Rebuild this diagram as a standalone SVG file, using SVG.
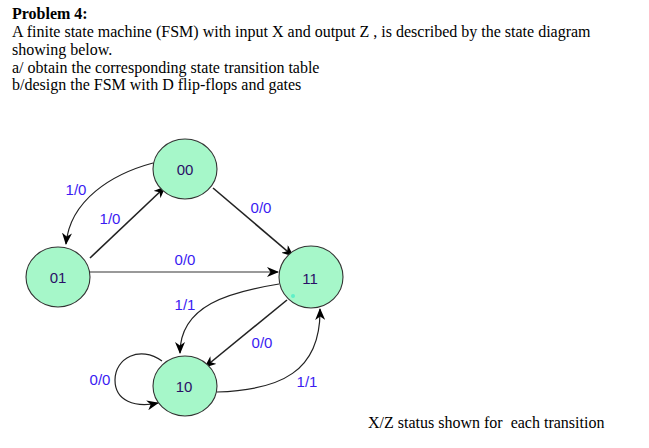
<svg xmlns="http://www.w3.org/2000/svg" width="649" height="448" viewBox="0 0 649 448">
<style>
.t{font-family:"Liberation Serif","Times New Roman",serif;font-size:16px;fill:#000}
.b{font-weight:bold}
.st circle,.st ellipse{fill:#a6f7c9;stroke:#333;stroke-width:1.1}
.st text{font-family:"Liberation Sans",Arial,sans-serif;font-size:15px;fill:#2a0f66;text-anchor:middle}
.e{fill:none;stroke:#222;stroke-width:1.2}
.s{stroke-width:1.6}
.g{fill:none;stroke:#999;stroke-width:1.8}
.lb{font-family:"Liberation Sans",Arial,sans-serif;font-size:15px;fill:#3a1cf2;text-anchor:middle}
</style>
<defs>
<marker id="ar" viewBox="0 0 12 10" refX="11" refY="5" markerWidth="12" markerHeight="10" markerUnits="userSpaceOnUse" orient="auto">
<path d="M0,0 L12,5 L0,10 L3.5,5 z" fill="#000"/>
</marker>
</defs>
<text class="t b" x="12" y="19">Problem 4:</text>
<text class="t" x="12" y="37">A finite state machine (FSM) with input X and output Z , is described by the state diagram</text>
<text class="t" x="12" y="55">showing below.</text>
<text class="t" x="12" y="73">a/ obtain the corresponding state transition table</text>
<text class="t" x="12" y="90">b/design the FSM with D flip-flops and gates</text>
<g id="connectors">
<path class="e" d="M153,163 C112,174 70,200 66,244" marker-end="url(#ar)"/>
<path class="e s" d="M90,258 L165,187" marker-end="url(#ar)"/>
<path class="e s" d="M213,188 L293,256" marker-end="url(#ar)"/>
<path class="g" d="M90,272 L278,272" marker-end="url(#ar)"/>
<path class="e" d="M279,284 C230,292 180,305 180,353" marker-end="url(#ar)"/>
<path class="e s" d="M287,300 L205,367" marker-end="url(#ar)"/>
<path class="e" d="M217,392 C280,390 321,372 320,309" marker-end="url(#ar)"/>
<path class="e" d="M162,361 C140,345 115,358 115,380 C115,401 135,408 158,403" marker-end="url(#ar)"/>
</g>
<g id="labels">
<text class="lb" x="76" y="195">1/0</text>
<text class="lb" x="110" y="224">1/0</text>
<text class="lb" x="261" y="213">0/0</text>
<text class="lb" x="185" y="265">0/0</text>
<text class="lb" x="185" y="310">1/1</text>
<text class="lb" x="262" y="348">0/0</text>
<text class="lb" x="100" y="385">0/0</text>
<text class="lb" x="307" y="387">1/1</text>
</g>
<g id="s00" class="st"><ellipse cx="185" cy="169" rx="32" ry="30"/><text x="185" y="175">00</text></g>
<g id="s01" class="st"><ellipse cx="58" cy="277" rx="32" ry="30"/><text x="58" y="283">01</text></g>
<g id="s11" class="st"><ellipse cx="311" cy="277" rx="32" ry="31"/><text x="310" y="284">11</text><circle cx="293" cy="296" r="2" style="fill:#5ef0c8;stroke:none"/></g>
<g id="s10" class="st"><ellipse cx="185" cy="386" rx="32" ry="30"/><text x="184" y="392">10</text></g>
<text class="t" x="368" y="428" xml:space="preserve">X/Z status shown for  each transition</text>
</svg>
